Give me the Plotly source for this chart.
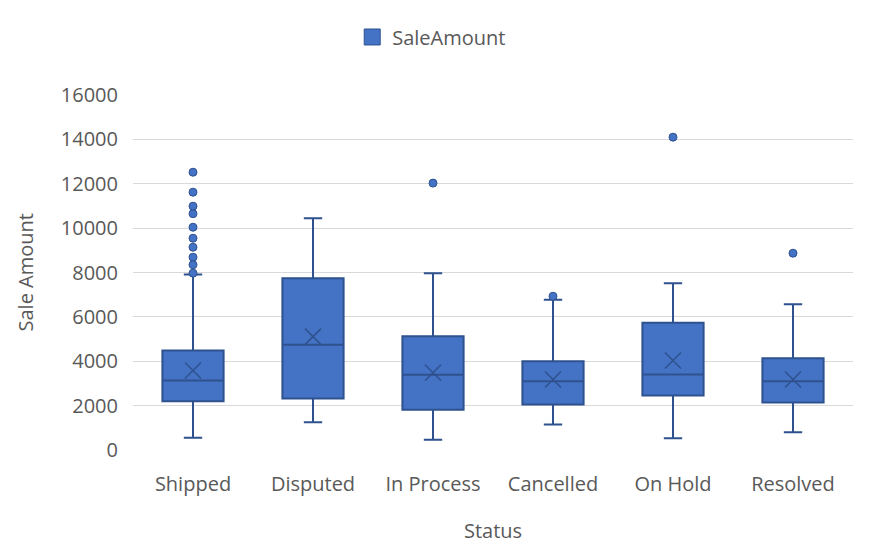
import plotly.graph_objects as go

categories = ["Shipped", "Disputed", "In Process", "Cancelled", "On Hold", "Resolved"]
q1 = [2200, 2320, 1810, 2050, 2460, 2140]
median = [3130, 4740, 3390, 3100, 3400, 3100]
q3 = [4480, 7740, 5130, 4000, 5730, 4140]
lower = [550, 1250, 460, 1150, 530, 800]
upper = [7910, 10450, 7970, 6770, 7520, 6570]
mean = [3580, 5110, 3480, 3180, 4030, 3180]

outlier_status = (["Shipped"] * 10) + ["In Process", "Cancelled", "On Hold", "Resolved"]
outlier_values = [12520, 11620, 10990, 10650, 10040, 9545, 9140, 8690, 8350, 7970,
                  12030, 6930, 14100, 8870]

y_ticks = [0, 2000, 4000, 6000, 8000, 10000, 12000, 14000, 16000]

fill = "#4472C4"
edge = "#2F528F"
text_col = "#595959"
font_family = "'Open Sans', sans-serif"
fs = 20

fig = go.Figure()
fig.add_trace(go.Box(
    x=categories, q1=q1, median=median, q3=q3,
    lowerfence=lower, upperfence=upper,
    fillcolor=fill, line=dict(color=edge, width=2),
    whiskerwidth=0.3, boxpoints=False, showlegend=False,
    name="SaleAmount", hoverinfo="skip",
))
fig.add_trace(go.Scatter(
    x=categories, y=mean, mode="markers",
    marker=dict(symbol="x-thin", size=16, line=dict(color=edge, width=1.5)),
    showlegend=False, hoverinfo="skip",
))
fig.add_trace(go.Scatter(
    x=outlier_status, y=outlier_values, mode="markers",
    marker=dict(symbol="circle", size=8, color=fill, line=dict(color=edge, width=1)),
    showlegend=False, hoverinfo="skip",
))
fig.add_trace(go.Scatter(
    x=[None], y=[None], mode="markers", name="SaleAmount",
    marker=dict(symbol="square", size=20, color=fill, line=dict(color=edge, width=1)),
    showlegend=True,
))

fig.update_layout(
    width=856, height=537,
    margin=dict(l=125, r=11, t=87, b=95, autoexpand=False),
    paper_bgcolor="white", plot_bgcolor="white",
    font=dict(family=font_family, size=fs, color=text_col),
    boxgap=0.49, boxgroupgap=0,
    showlegend=True,
    legend=dict(orientation="h", xref="container", yref="container",
                x=0.495, xanchor="center", y=0.946, yanchor="middle",
                font=dict(size=fs, color=text_col), itemsizing="trace"),
    xaxis=dict(
        type="category", categoryorder="array", categoryarray=categories,
        showgrid=False, showline=False, zeroline=False,
        ticks="outside", ticklen=16, tickcolor="rgba(0,0,0,0)",
        tickfont=dict(size=fs, color=text_col), automargin=False,
    ),
    yaxis=dict(
        range=[0, 16000], tickvals=y_ticks,
        tickformat="d", showgrid=True, gridcolor="#D9D9D9", gridwidth=1.3,
        zeroline=False, showline=False,
        ticks="outside", ticklen=10, tickcolor="rgba(0,0,0,0)",
        tickfont=dict(size=fs, color=text_col), automargin=False,
    ),
    annotations=[
        dict(text="Status", xref="paper", yref="paper", x=0.5, y=-0.2268,
             xanchor="center", yanchor="middle", showarrow=False,
             font=dict(size=fs, color=text_col)),
        dict(text="Sale Amount", xref="paper", yref="paper", x=-0.15, y=0.5,
             xanchor="center", yanchor="middle", showarrow=False, textangle=-90,
             font=dict(size=fs, color=text_col)),
    ],
    shapes=[dict(type="line", xref="paper", yref="paper", x0=1.0222, x1=1.0222,
                 y0=-0.3, y1=1.3, line=dict(color="#D0D0D0", width=2), layer="above")],
)

fig.write_html("out.html")
